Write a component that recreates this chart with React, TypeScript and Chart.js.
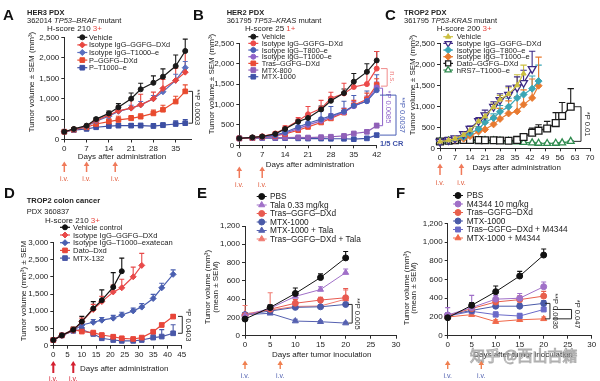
import React, { useEffect, useRef } from "react";
import { Chart, registerables } from "chart.js";
Chart.register(...registerables);

const FONT = '"Liberation Sans", Arial, Helvetica, sans-serif';
const INK = "#2b2b2b";

// ---------------- Panel A data ----------------
const daysA = [0, 3, 7, 10, 14, 17, 21, 24, 28, 31, 35, 38];
const vehicleA = [190, 260, 340, 500, 640, 790, 1000, 1230, 1390, 1540, 1800, 2170];
const vehicleAErr = [20, 30, 30, 40, 60, 90, 140, 150, 170, 190, 270, 290];
const isoGgfgA = [190, 250, 330, 470, 600, 700, 770, 850, 1000, 1250, 1450, 1650];
const isoGgfgAErr = [20, 20, 30, 40, 60, 120, 200, 260, 160, 220, 300, 500];
const isoT1000A = [190, 240, 320, 450, 570, 690, 770, 850, 1000, 1170, 1450, 1760];
const isoT1000AErr = [20, 20, 30, 40, 50, 60, 70, 80, 80, 100, 150, 150];
const pGgfgA = [190, 240, 300, 380, 440, 480, 520, 560, 640, 730, 930, 1180];
const pGgfgAErr = [20, 20, 30, 40, 70, 90, 70, 70, 80, 110, 130, 160];
const pT1000A = [190, 230, 260, 300, 330, 340, 340, 340, 330, 350, 380, 400];
const pT1000AErr = [20, 20, 30, 30, 40, 50, 50, 60, 60, 60, 80, 90];
const xTicksA = [0, 7, 14, 21, 28, 35];
const yTicksA = [0, 500, 1000, 1500, 2000, 2500];
const doseDaysA = [0, 7, 16];

// ---------------- Panel B data ----------------
const daysB = [0, 4, 7, 11, 14, 18, 21, 25, 28, 32, 35, 39, 42];
const vehicleB = [170, 195, 215, 280, 400, 580, 670, 880, 1090, 1280, 1560, 1800, 2080];
const vehicleBErr = [15, 20, 25, 30, 40, 60, 70, 80, 90, 100, 200, 200, 220];
const isoGgfgB = [170, 190, 220, 290, 420, 600, 760, 900, 1150, 1270, 1430, 1500, 1880];
const isoGgfgBErr = [15, 20, 30, 40, 60, 80, 190, 200, 150, 250, 150, 300, 420];
const isoT800B = [170, 185, 210, 250, 320, 450, 540, 640, 720, 830, 970, 1080, 1350];
const isoT800BErr = [15, 20, 25, 40, 70, 150, 150, 200, 230, 250, 250, 250, 380];
const isoT1000B = [170, 185, 205, 240, 300, 410, 500, 600, 690, 810, 960, 1090, 1420];
const isoT1000BErr = [15, 15, 20, 30, 40, 60, 70, 80, 90, 100, 110, 120, 130];
const trasB = [170, 180, 200, 230, 280, 370, 450, 560, 660, 800, 980, 1130, 1480];
const trasBErr = [15, 15, 20, 30, 40, 50, 60, 70, 90, 100, 120, 150, 150];
const mtx800B = [170, 180, 185, 185, 190, 195, 190, 200, 210, 230, 290, 330, 480];
const mtx800BErr = [10, 10, 15, 15, 15, 15, 15, 20, 20, 25, 30, 40, 60];
const mtx1000B = [170, 175, 180, 175, 175, 170, 165, 165, 160, 160, 150, 170, 250];
const mtx1000BErr = [10, 10, 10, 10, 10, 10, 10, 10, 10, 10, 15, 20, 40];
const xTicksB = [0, 7, 14, 21, 28, 35, 42];
const yTicksB = [0, 500, 1000, 1500, 2000, 2500];
const doseDaysB = [0, 7];

// ---------------- Panel C data ----------------
const daysC = [0, 4, 7, 11, 14, 18, 21, 25, 28, 32, 36, 39, 43, 46];
const daysCLong = [0, 4, 7, 11, 14, 18, 21, 25, 28, 32, 36, 39, 43, 46, 50, 54, 57, 61];
const vehicleC = [160, 190, 230, 320, 430, 640, 760, 980, 1160, 1290, 1500, 1780];
const vehicleCErr = [20, 20, 30, 40, 50, 60, 80, 100, 100, 150, 250, 200];
const isoGgfgC = [160, 200, 240, 340, 470, 650, 790, 990, 1150, 1280, 1450, 1560, 1890];
const isoGgfgCErr = [20, 20, 30, 50, 60, 80, 120, 120, 150, 200, 250, 300, 420];
const isoT800C = [160, 180, 210, 270, 360, 460, 620, 720, 870, 990, 1200, 1280, 1420, 1600];
const isoT800CErr = [20, 20, 20, 30, 50, 60, 80, 100, 150, 200, 250, 300, 300, 380];
const isoT1000C = [160, 180, 200, 230, 290, 400, 450, 570, 700, 830, 880, 1040, 1200, 1490];
const isoT1000CErr = [20, 20, 20, 30, 60, 100, 150, 200, 250, 300, 350, 350, 450, 680];
const datoC = [160, 180, 190, 200, 200, 195, 190, 190, 185, 180, 200, 270, 370, 420, 470, 600, 770, 990];
const datoCErr = [20, 20, 20, 20, 20, 20, 20, 20, 20, 20, 30, 60, 110, 140, 170, 250, 320, 430];
const hrs7C = [160, 170, 180, 190, 190, 190, 185, 180, 175, 165, 155, 140, 130, 120, 115, 120, 130, 165];
const hrs7CErr = [10, 10, 10, 10, 10, 10, 10, 10, 10, 10, 10, 10, 10, 10, 10, 10, 10, 15];
const xTicksC = [0, 7, 14, 21, 28, 35, 42, 49, 56, 63, 70];
const yTicksC = [0, 500, 1000, 1500, 2000, 2500];
const doseDaysC = [0, 10];

// ---------------- Panel D data ----------------
const daysD = [0, 3, 7, 10, 14, 17, 21, 24, 28, 31, 35, 38, 42];
const vehicleD = [164, 300, 460, 700, 1080, 1320, 1700, 2160];
const vehicleDErr = [20, 30, 80, 150, 200, 300, 420, 380];
const isoGgfgD = [164, 300, 440, 700, 1050, 1280, 1560, 1680, 2000, 2330];
const isoGgfgDErr = [20, 30, 60, 100, 150, 150, 200, 250, 280, 350];
const isoT1000D = [164, 300, 440, 600, 680, 740, 800, 890, 1010, 1120, 1370, 1680, 2070];
const isoT1000DErr = [20, 30, 50, 60, 80, 80, 80, 80, 80, 100, 120, 130, 130];
const datoD = [164, 300, 470, 410, 380, 310, 260, 215, 195, 235, 405, 600, 845];
const datoDErr = [20, 30, 40, 40, 40, 40, 40, 40, 40, 40, 40, 50, 60];
const mtx132D = [164, 300, 430, 470, 340, 215, 165, 140, 140, 165, 235, 265, 360];
const mtx132DErr = [20, 30, 40, 50, 50, 40, 40, 40, 40, 60, 80, 200, 250];
const xTicksD = [0, 5, 10, 15, 20, 25, 30, 35, 40, 45];
const yTicksD = [0, 500, 1000, 1500, 2000, 2500, 3000];
const doseDaysD = [0, 7];

// ---------------- Panel E data ----------------
const daysE = [0, 5, 10, 15, 20];
const pbsE = [182, 309, 462, 636, 851];
const pbsEErr = [20, 30, 60, 40, 70];
const talaE = [220, 300, 430, 505, 690];
const talaEErr = [20, 30, 40, 30, 40];
const trasE = [220, 290, 355, 390, 415];
const trasEErr = [20, 30, 40, 30, 100];
const mtxE = [230, 270, 310, 316, 342];
const mtxEErr = [20, 30, 20, 20, 20];
const mtxTalaE = [230, 245, 160, 153, 138];
const mtxTalaEErr = [20, 20, 20, 10, 10];
const trasTalaE = [240, 280, 320, 325, 400];
const trasTalaEErr = [90, 190, 30, 40, 100];
const xTicksE = [0, 5, 10, 15, 20, 25, 30];
const yTicksE = [0, 200, 400, 600, 800, 1000, 1200];
const doseDaysE = [0, 7];

// ---------------- Panel F data ----------------
const daysF = [0, 5, 10, 15, 20];
const pbsF = [192, 324, 470, 637, 861];
const pbsFErr = [20, 30, 60, 50, 65];
const m4344F = [220, 300, 390, 400, 523];
const m4344FErr = [80, 130, 40, 50, 50];
const trasF = [215, 290, 360, 385, 423];
const trasFErr = [20, 30, 40, 40, 50];
const mtxF = [220, 270, 315, 315, 345];
const mtxFErr = [20, 30, 30, 30, 30];
const trasM4344F = [210, 260, 225, 210, 280];
const trasM4344FErr = [20, 40, 30, 30, 40];
const mtxM4344F = [200, 225, 150, 170, 180];
const mtxM4344FErr = [20, 20, 20, 20, 20];
const xTicksF = [0, 5, 10, 15, 20, 25, 30];
const yTicksF = [0, 200, 400, 600, 800, 1000, 1200];
const doseDaysF = [0, 7];

// ---------------- types ----------------
type Seg = { t: string; b?: boolean; i?: boolean; c?: string };
type Txt = { x: number; y: number; size: number; segs: Seg[] };
type Ser = { label: string; x: number[]; y: number[]; e: number[]; color: string; marker: string; r: number; open?: boolean };
type Bracket = { xs: number; xe: number; y1: number; y2: number; text: string; color: string; off: number };
type Panel = {
  box: number[];
  area: number[];
  xMax: number;
  xTicks: number[];
  yTicks: number[];
  series: Ser[];
  legend: { x0: number; x1: number; tx: number; y0: number; dy: number; size: number };
  texts: Txt[];
  yTitle: { lines: string[]; xs: number[]; cy: number };
  xTitle: { text: string; cx: number; y: number };
  arrows: { days: number[]; y0: number; y1: number; color: string; lw: number; labelColor: string; labelY: number };
  brackets: Bracket[];
  lw: number;
  cap: number;
  watermark?: { text: string; x: number; y: number };
};

const YW = 30;
const XH = 14;

const head = (x: number, y: number, letter: string): Txt => ({ x, y, size: 15, segs: [{ t: letter, b: true, c: "#111" }] });

const panels: Panel[] = [
  {
    box: [0, 0, 205, 190],
    area: [64.3, 37.5, 191.6, 139.5],
    xMax: 40, xTicks: xTicksA, yTicks: yTicksA, lw: 1.2, cap: 2.5,
    series: [
      { label: "Vehicle", x: daysA, y: vehicleA, e: vehicleAErr, color: "#1a1a1a", marker: "circle", r: 2.5 },
      { label: "Isotype IgG–GGFG–DXd", x: daysA, y: isoGgfgA, e: isoGgfgAErr, color: "#e8463f", marker: "rectRot", r: 3 },
      { label: "Isotype IgG–T1000–e", x: daysA, y: isoT1000A, e: isoT1000AErr, color: "#5a6fbf", marker: "rectRot", r: 3 },
      { label: "P–GGFG–DXd", x: daysA, y: pGgfgA, e: pGgfgAErr, color: "#e84a2e", marker: "rect", r: 3.3 },
      { label: "P–T1000–e", x: daysA, y: pT1000A, e: pT1000AErr, color: "#3d4fa3", marker: "rect", r: 3.3 },
    ],
    legend: { x0: 77.3, x1: 87.3, tx: 89, y0: 37.3, dy: 7.6, size: 7.3 },
    texts: [
      head(3, 20, "A"),
      { x: 27, y: 15, size: 7.5, segs: [{ t: "HER3 PDX", b: true }] },
      { x: 27, y: 22.5, size: 7.5, segs: [{ t: "362014 " }, { t: "TP53–BRAF", i: true }, { t: " mutant" }] },
      { x: 47, y: 31, size: 8, segs: [{ t: "H-score 210 " }, { t: "3+", c: "#e8463f" }] },
    ],
    yTitle: { lines: ["Tumor volume ± SEM (mm³)"], xs: [32], cy: 82 },
    xTitle: { text: "Days after administration", cx: 122, y: 159 },
    arrows: { days: doseDaysA, y0: 161.5, y1: 172, color: "#f07a5a", lw: 1.5, labelColor: "#e05a3a", labelY: 181 },
    brackets: [{ xs: 39, xe: 40.3, y1: 1180, y2: 400, text: "**P 0.0003", color: INK, off: 5 }],
  },
  {
    box: [190, 0, 225, 190],
    area: [239.3, 43.3, 376.7, 145.3],
    xMax: 42, xTicks: xTicksB, yTicks: yTicksB, lw: 1.2, cap: 2.5,
    series: [
      { label: "Vehicle", x: daysB, y: vehicleB, e: vehicleBErr, color: "#1a1a1a", marker: "circle", r: 2.5 },
      { label: "Isotype IgG–GGFG–DXd", x: daysB, y: isoGgfgB, e: isoGgfgBErr, color: "#ec4a4a", marker: "circle", r: 2.5 },
      { label: "Isotype IgG–T800–e", x: daysB, y: isoT800B, e: isoT800BErr, color: "#4a5fb5", marker: "circle", r: 2.5 },
      { label: "Isotype IgG–T1000–e", x: daysB, y: isoT1000B, e: isoT1000BErr, color: "#8e62c8", marker: "circle", r: 2.5 },
      { label: "Tras–GGFG–DXd", x: daysB, y: trasB, e: trasBErr, color: "#ea4a36", marker: "rect", r: 3.3 },
      { label: "MTX-800", x: daysB, y: mtx800B, e: mtx800BErr, color: "#9060b8", marker: "rect", r: 3.3 },
      { label: "MTX-1000", x: daysB, y: mtx1000B, e: mtx1000BErr, color: "#3f52a8", marker: "rect", r: 3.3 },
    ],
    legend: { x0: 248.3, x1: 258.3, tx: 261.7, y0: 36.7, dy: 6.67, size: 7.3 },
    texts: [
      head(193, 20, "B"),
      { x: 226.7, y: 15, size: 7.5, segs: [{ t: "HER2 PDX", b: true }] },
      { x: 226.7, y: 22.5, size: 7.5, segs: [{ t: "361795 " }, { t: "TP53–KRAS", i: true }, { t: " mutant" }] },
      { x: 245, y: 31, size: 8, segs: [{ t: "H-score 25 " }, { t: "1+", c: "#e8463f" }] },
      { x: 380, y: 146, size: 7.5, segs: [{ t: "1/5 CR", b: true, c: "#3f52a8" }] },
    ],
    yTitle: { lines: ["Tumor volume ± SEM (mm³)"], xs: [212], cy: 84 },
    xTitle: { text: "Days after administration", cx: 310, y: 166.5 },
    arrows: { days: doseDaysB, y0: 166.5, y1: 178, color: "#f07a5a", lw: 1.5, labelColor: "#e05a3a", labelY: 187 },
    brackets: [
      { xs: 43.3, xe: 45.2, y1: 1880, y2: 1450, text: "n.s.", color: "#f08a8a", off: 5 },
      { xs: 42.6, xe: 43.8, y1: 1400, y2: 480, text: "*P 0.0085", color: "#8e62c8", off: 5 },
      { xs: 43, xe: 47.9, y1: 1230, y2: 250, text: "**P 0.0037", color: "#4a5fb5", off: 6 },
    ],
  },
  {
    box: [380, 0, 220, 190],
    area: [440, 43.3, 590, 148.3],
    xMax: 70, xTicks: xTicksC, yTicks: yTicksC, lw: 1.2, cap: 3.2,
    series: [
      { label: "Vehicle", x: daysC, y: vehicleC, e: vehicleCErr, color: "#cbbf40", marker: "triangle", r: 3 },
      { label: "Isotype IgG–GGFG–DXd", x: daysC, y: isoGgfgC, e: isoGgfgCErr, color: "#3e2a85", marker: "triangleDown", r: 4.5, open: true },
      { label: "Isotype IgG–T800–e", x: daysC, y: isoT800C, e: isoT800CErr, color: "#3aa6b5", marker: "rectRot", r: 3.5 },
      { label: "Isotype IgG–T1000–e", x: daysC, y: isoT1000C, e: isoT1000CErr, color: "#e87a30", marker: "rectRot", r: 3.5 },
      { label: "Dato–GGFG–DXd", x: daysCLong, y: datoC, e: datoCErr, color: "#1a1a1a", marker: "rect", r: 4.8, open: true },
      { label: "hRS7–T1000–e", x: daysCLong, y: hrs7C, e: hrs7CErr, color: "#2f8a4e", marker: "triangle", r: 4, open: true },
    ],
    legend: { x0: 443.3, x1: 453, tx: 456.7, y0: 36.7, dy: 6.67, size: 7.6 },
    texts: [
      head(385, 20, "C"),
      { x: 404, y: 15, size: 7.5, segs: [{ t: "TROP2 PDX", b: true }] },
      { x: 404, y: 22.5, size: 7.5, segs: [{ t: "361795 " }, { t: "TP53-KRAS", i: true }, { t: " mutant" }] },
      { x: 436.7, y: 31, size: 8, segs: [{ t: "H-score 200 " }, { t: "3+", c: "#e8463f" }] },
    ],
    yTitle: { lines: ["Tumor volume ± SEM (mm³)"], xs: [412.5], cy: 85 },
    xTitle: { text: "Days after administration", cx: 516.7, y: 170 },
    arrows: { days: doseDaysC, y0: 163.5, y1: 175, color: "#f07a5a", lw: 1.5, labelColor: "#e05a3a", labelY: 185 },
    brackets: [{ xs: 62.5, xe: 65.8, y1: 990, y2: 165, text: "*P 0.01", color: INK, off: 6 }],
  },
  {
    box: [0, 183, 205, 198],
    area: [53.3, 242.3, 181.7, 345.7],
    xMax: 45, xTicks: xTicksD, yTicks: yTicksD, lw: 1.2, cap: 2.5,
    series: [
      { label: "Vehicle control", x: daysD.slice(0, vehicleD.length), y: vehicleD, e: vehicleDErr, color: "#111111", marker: "circle", r: 2.5 },
      { label: "Isotype IgG–GGFG–DXd", x: daysD.slice(0, isoGgfgD.length), y: isoGgfgD, e: isoGgfgDErr, color: "#e84a4a", marker: "rectRot", r: 3 },
      { label: "Isotype IgG–T1000–exatecan", x: daysD, y: isoT1000D, e: isoT1000DErr, color: "#4a5fb0", marker: "rectRot", r: 3 },
      { label: "Dato–Dxd", x: daysD, y: datoD, e: datoDErr, color: "#e8463a", marker: "rect", r: 3.3 },
      { label: "MTX-132", x: daysD, y: mtx132D, e: mtx132DErr, color: "#4a58a8", marker: "rect", r: 3.3 },
    ],
    legend: { x0: 60, x1: 70, tx: 73, y0: 227.3, dy: 7.7, size: 7.6 },
    texts: [
      head(4, 198, "D"),
      { x: 26.7, y: 203, size: 7.5, segs: [{ t: "TROP2 colon cancer", b: true }] },
      { x: 26.7, y: 214, size: 7.5, segs: [{ t: "PDX 360837" }] },
      { x: 45, y: 222.5, size: 8, segs: [{ t: "H-score 210 " }, { t: "3+", c: "#e8463f" }] },
    ],
    yTitle: { lines: ["Tumor volume (mm³) ± SEM"], xs: [23.3], cy: 291 },
    xTitle: { text: "Days after administration", cx: 124.2, y: 371 },
    arrows: { days: doseDaysD, y0: 361, y1: 373, color: "#d42030", lw: 2, labelColor: "#d42030", labelY: 380.5 },
    brackets: [{ xs: 43.7, xe: 45.2, y1: 850, y2: 360, text: "*P 0.0403", color: INK, off: 6 }],
  },
  {
    box: [195, 183, 210, 198],
    area: [245, 226, 396, 335.7],
    xMax: 30, xTicks: xTicksE, yTicks: yTicksE, lw: 1, cap: 2.5,
    series: [
      { label: "PBS", x: daysE, y: pbsE, e: pbsEErr, color: "#111111", marker: "circle", r: 3 },
      { label: "Tala 0.33 mg/kg", x: daysE, y: talaE, e: talaEErr, color: "#a070c8", marker: "triangle", r: 3.5 },
      { label: "Tras–GGFG–DXd", x: daysE, y: trasE, e: trasEErr, color: "#e85a50", marker: "circle", r: 3 },
      { label: "MTX-1000", x: daysE, y: mtxE, e: mtxEErr, color: "#4a5aa8", marker: "circle", r: 3 },
      { label: "MTX-1000 + Tala", x: daysE, y: mtxTalaE, e: mtxTalaEErr, color: "#5560b0", marker: "triangle", r: 3.5 },
      { label: "Tras–GGFG–DXd + Tala", x: daysE, y: trasTalaE, e: trasTalaEErr, color: "#f07a70", marker: "triangle", r: 3.5 },
    ],
    legend: { x0: 256.7, x1: 266.7, tx: 270, y0: 196.5, dy: 8.5, size: 8.3 },
    texts: [head(197, 198, "E")],
    yTitle: { lines: ["Tumor volume (mm³)", "(mean ± SEM)"], xs: [208, 216], cy: 287 },
    xTitle: { text: "Days after tumor inoculation", cx: 321.7, y: 357 },
    arrows: { days: doseDaysE, y0: 360.5, y1: 369, color: "#f08050", lw: 1.4, labelColor: "#5060b0", labelY: 377.5 },
    brackets: [{ xs: 20.5, xe: 21.3, y1: 342, y2: 138, text: "**P 0.005", color: INK, off: 5 }],
  },
  {
    box: [395, 183, 205, 198],
    area: [447.7, 223.3, 591.7, 335.7],
    xMax: 30, xTicks: xTicksF, yTicks: yTicksF, lw: 1, cap: 2.5,
    series: [
      { label: "PBS", x: daysF, y: pbsF, e: pbsFErr, color: "#111111", marker: "circle", r: 3 },
      { label: "M4344 10 mg/kg", x: daysF, y: m4344F, e: m4344FErr, color: "#a070c8", marker: "circle", r: 3 },
      { label: "Tras–GGFG–DXd", x: daysF, y: trasF, e: trasFErr, color: "#e8604c", marker: "circle", r: 3 },
      { label: "MTX-1000", x: daysF, y: mtxF, e: mtxFErr, color: "#4a5aa8", marker: "circle", r: 3 },
      { label: "Tras–GGFG–DXd + M4344", x: daysF, y: trasM4344F, e: trasM4344FErr, color: "#6a6ac8", marker: "rect", r: 3.5 },
      { label: "MTX-1000 + M4344", x: daysF, y: mtxM4344F, e: mtxM4344FErr, color: "#f0684a", marker: "triangle", r: 3.5 },
    ],
    legend: { x0: 453, x1: 463, tx: 466.7, y0: 195.5, dy: 8.5, size: 8.3 },
    texts: [head(396, 198, "F")],
    yTitle: { lines: ["Tumor volume (mm³)", "(mean ± SEM)"], xs: [406.5, 414], cy: 288 },
    xTitle: { text: "Days after tumor inoculation", cx: 523, y: 357 },
    arrows: { days: doseDaysF, y0: 360.5, y1: 369, color: "#f08050", lw: 1.4, labelColor: "#5060b0", labelY: 377.5 },
    brackets: [
      { xs: 20.3, xe: 21.3, y1: 345, y2: 180, text: "**P 0.0036", color: INK, off: 5 },
      { xs: 21.9, xe: 25.8, y1: 280, y2: 180, text: "*P 0.047", color: INK, off: 6 },
    ],
    watermark: { text: "知乎 @西山古籍", x: 470, y: 361 },
  },
];

function markerPath(ctx: CanvasRenderingContext2D, style: string, x: number, y: number, r: number) {
  ctx.beginPath();
  if (style === "circle") {
    ctx.arc(x, y, r, 0, Math.PI * 2);
  } else if (style === "rect") {
    const s = r * Math.SQRT1_2;
    ctx.rect(x - s, y - s, 2 * s, 2 * s);
  } else if (style === "rectRot") {
    ctx.moveTo(x, y - r);
    ctx.lineTo(x + r, y);
    ctx.lineTo(x, y + r);
    ctx.lineTo(x - r, y);
    ctx.closePath();
  } else {
    let rad = style === "triangleDown" ? Math.PI : 0;
    ctx.moveTo(x + Math.sin(rad) * r, y - Math.cos(rad) * r);
    rad += (2 * Math.PI) / 3;
    ctx.lineTo(x + Math.sin(rad) * r, y - Math.cos(rad) * r);
    rad += (2 * Math.PI) / 3;
    ctx.lineTo(x + Math.sin(rad) * r, y - Math.cos(rad) * r);
    ctx.closePath();
  }
}

function drawRich(ctx: CanvasRenderingContext2D, t: Txt, ox: number, oy: number) {
  let x = t.x - ox;
  ctx.textAlign = "left";
  ctx.textBaseline = "alphabetic";
  for (const s of t.segs) {
    ctx.font = `${s.i ? "italic " : ""}${s.b ? "bold " : ""}${t.size}px ${FONT}`;
    ctx.fillStyle = s.c || "#222";
    ctx.fillText(s.t, x, t.y - oy);
    x += ctx.measureText(s.t).width;
  }
}

function decor(p: Panel) {
  const ox = p.box[0];
  const oy = p.box[1];
  return {
    id: "decor",
    beforeDatasetsDraw(chart: any) {
      const ctx: CanvasRenderingContext2D = chart.ctx;
      const ys = chart.scales.y;
      ctx.save();
      p.series.forEach((s, di) => {
        const meta = chart.getDatasetMeta(di);
        ctx.strokeStyle = s.color;
        ctx.lineWidth = 1.1;
        meta.data.forEach((pt: any, j: number) => {
          const e = s.e[j];
          if (!e) return;
          const top = ys.getPixelForValue(s.y[j] + e);
          ctx.beginPath();
          ctx.moveTo(pt.x, pt.y);
          ctx.lineTo(pt.x, top);
          ctx.moveTo(pt.x - p.cap, top);
          ctx.lineTo(pt.x + p.cap, top);
          ctx.stroke();
        });
      });
      ctx.restore();
    },
    afterDraw(chart: any) {
      const ctx: CanvasRenderingContext2D = chart.ctx;
      const xs = chart.scales.x;
      const ys = chart.scales.y;
      ctx.save();
      // texts
      p.texts.forEach((t) => drawRich(ctx, t, ox, oy));
      // legend
      const L = p.legend;
      p.series.forEach((s, i) => {
        const y = L.y0 + i * L.dy - oy;
        ctx.strokeStyle = s.color;
        ctx.lineWidth = p.lw;
        ctx.beginPath();
        ctx.moveTo(L.x0 - ox, y);
        ctx.lineTo(L.x1 - ox, y);
        ctx.stroke();
        markerPath(ctx, s.marker, (L.x0 + L.x1) / 2 - ox, y, Math.min(s.r, 3.6));
        ctx.fillStyle = s.open ? "#fff" : s.color;
        ctx.fill();
        ctx.lineWidth = s.open ? 1.3 : 1;
        ctx.stroke();
        ctx.font = `${L.size}px ${FONT}`;
        ctx.fillStyle = "#222";
        ctx.textAlign = "left";
        ctx.textBaseline = "middle";
        ctx.fillText(s.label, L.tx - ox, y + 0.5);
      });
      // y title
      ctx.fillStyle = "#222";
      ctx.font = `8px ${FONT}`;
      ctx.textAlign = "center";
      ctx.textBaseline = "middle";
      p.yTitle.lines.forEach((line, i) => {
        ctx.save();
        ctx.translate(p.yTitle.xs[i] - ox, p.yTitle.cy - oy);
        ctx.rotate(-Math.PI / 2);
        ctx.fillText(line, 0, 0);
        ctx.restore();
      });
      // x title
      ctx.textBaseline = "alphabetic";
      ctx.font = `8px ${FONT}`;
      ctx.fillText(p.xTitle.text, p.xTitle.cx - ox, p.xTitle.y - oy);
      // arrows
      const A = p.arrows;
      A.days.forEach((d) => {
        const x = xs.getPixelForValue(d);
        ctx.strokeStyle = A.color;
        ctx.fillStyle = A.color;
        ctx.lineWidth = A.lw;
        ctx.beginPath();
        ctx.moveTo(x, A.y1 - oy);
        ctx.lineTo(x, A.y0 + 3 - oy);
        ctx.stroke();
        ctx.beginPath();
        ctx.moveTo(x, A.y0 - oy);
        ctx.lineTo(x + 2.8, A.y0 + 4.5 - oy);
        ctx.lineTo(x - 2.8, A.y0 + 4.5 - oy);
        ctx.closePath();
        ctx.fill();
        ctx.font = `7px ${FONT}`;
        ctx.fillStyle = A.labelColor;
        ctx.textAlign = "center";
        ctx.fillText("i.v.", x, A.labelY - oy);
      });
      // brackets
      p.brackets.forEach((b) => {
        const x1 = xs.getPixelForValue(b.xs);
        const x2 = xs.getPixelForValue(b.xe);
        const y1 = ys.getPixelForValue(b.y1);
        const y2 = ys.getPixelForValue(b.y2);
        ctx.strokeStyle = b.color;
        ctx.lineWidth = 1;
        ctx.beginPath();
        ctx.moveTo(x1, y1);
        ctx.lineTo(x2, y1);
        ctx.lineTo(x2, y2);
        ctx.lineTo(x1, y2);
        ctx.stroke();
        ctx.save();
        ctx.translate(x2 + b.off, (y1 + y2) / 2);
        ctx.rotate(Math.PI / 2);
        ctx.font = `7.5px ${FONT}`;
        ctx.fillStyle = b.color;
        ctx.textAlign = "center";
        ctx.textBaseline = "middle";
        ctx.fillText(b.text, 0, 0);
        ctx.restore();
      });
      if (p.watermark) {
        ctx.font = `15px "Noto Sans CJK SC", sans-serif`;
        ctx.textAlign = "left";
        ctx.textBaseline = "alphabetic";
        ctx.lineWidth = 1;
        ctx.strokeStyle = "rgba(110,110,110,0.55)";
        ctx.fillStyle = "rgba(255,255,255,0.75)";
        ctx.fillText(p.watermark.text, p.watermark.x - ox, p.watermark.y - oy);
        ctx.strokeText(p.watermark.text, p.watermark.x - ox, p.watermark.y - oy);
      }
      ctx.restore();
    },
  };
}

function PanelChart({ p }: { p: Panel }) {
  const ref = useRef<HTMLCanvasElement | null>(null);
  useEffect(() => {
    if (!ref.current) return;
    const [bx, by, bw, bh] = p.box;
    const [l, t, r, b] = p.area;
    const axisCommon = {
      grid: { display: true, drawOnChartArea: false, drawTicks: true, tickLength: 3, tickColor: INK, lineWidth: 1 },
      border: { display: true, color: INK, width: 1 },
    };
    const chart = new Chart(ref.current, {
      type: "line",
      data: {
        datasets: p.series.map((s) => ({
          label: s.label,
          data: s.x.map((d, i) => ({ x: d, y: s.y[i] })),
          borderColor: s.color,
          backgroundColor: s.open ? "#fff" : s.color,
          pointBackgroundColor: s.open ? "#fff" : s.color,
          pointBorderColor: s.color,
          pointBorderWidth: s.open ? 1.3 : 1,
          pointRadius: s.r,
          pointStyle: s.marker === "triangleDown" ? "triangle" : s.marker,
          pointRotation: s.marker === "triangleDown" ? 180 : 0,
          borderWidth: p.lw,
          tension: 0,
          fill: false,
          clip: false as any,
        })),
      },
      options: {
        responsive: false,
        animation: false,
        devicePixelRatio: 1,
        events: [],
        layout: {
          padding: { left: l - bx - YW, top: t - by, right: bx + bw - r, bottom: by + bh - b - XH },
        },
        plugins: { legend: { display: false }, tooltip: { enabled: false }, title: { display: false } },
        scales: {
          x: {
            type: "linear",
            min: 0,
            max: p.xMax,
            ...axisCommon,
            afterBuildTicks: (s: any) => {
              s.ticks = p.xTicks.map((v) => ({ value: v }));
            },
            afterFit: (s: any) => {
              s.height = XH;
            },
            ticks: { font: { family: FONT, size: 8 }, color: "#222", padding: 1.5, maxRotation: 0, autoSkip: false },
          },
          y: {
            type: "linear",
            min: 0,
            max: p.yTicks[p.yTicks.length - 1],
            ...axisCommon,
            afterBuildTicks: (s: any) => {
              s.ticks = p.yTicks.map((v) => ({ value: v }));
            },
            afterFit: (s: any) => {
              s.width = YW;
            },
            ticks: {
              font: { family: FONT, size: 8 },
              color: "#222",
              padding: 2,
              callback: (v: any) => Number(v).toLocaleString("en-US"),
            },
          },
        },
      } as any,
      plugins: [decor(p) as any],
    });
    return () => chart.destroy();
  }, [p]);
  const [bx, by, bw, bh] = p.box;
  return (
    <canvas
      ref={ref}
      width={bw}
      height={bh}
      style={{ position: "absolute", left: bx, top: by, width: bw, height: bh }}
    />
  );
}

export default function App() {
  return (
    <div style={{ position: "fixed", left: 0, top: 0, width: 600, height: 381, background: "#fff", overflow: "hidden" }}>
      {panels.map((p, i) => (
        <PanelChart key={i} p={p} />
      ))}
    </div>
  );
}
